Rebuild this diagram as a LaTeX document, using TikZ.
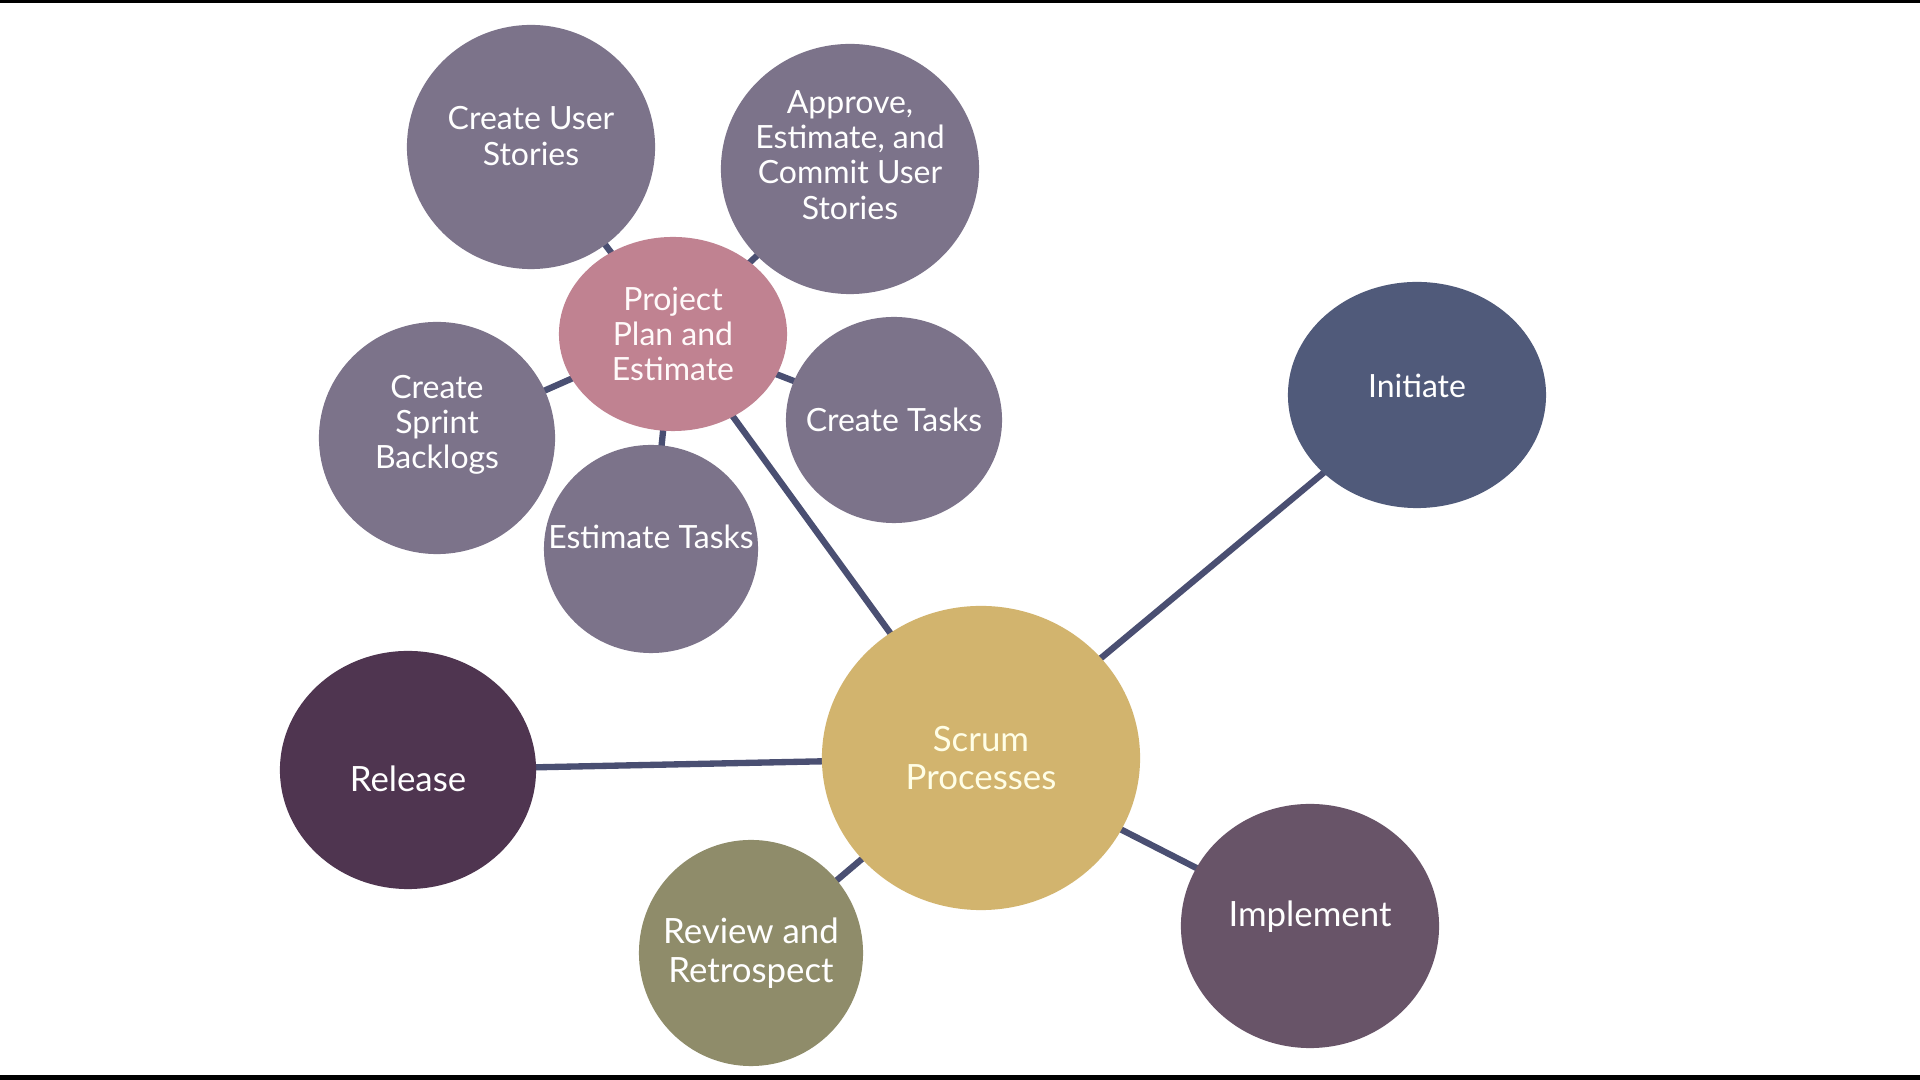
\documentclass[tikz,border=0pt]{standalone}
\usepackage{fontspec}
\setmainfont{Lato}
\usepackage{tikz}
\usetikzlibrary{shapes.geometric, backgrounds}
\definecolor{bubblegray}{RGB}{124, 115, 138}
\definecolor{planpink}{RGB}{192, 130, 145}
\definecolor{initblue}{RGB}{80, 90, 122}
\definecolor{scrumgold}{RGB}{210, 180, 110}
\definecolor{releaseplum}{RGB}{79, 53, 80}
\definecolor{reviewolive}{RGB}{143, 140, 106}
\definecolor{implmauve}{RGB}{104, 84, 104}
\definecolor{linkslate}{RGB}{74, 79, 114}

\begin{document}
\begin{tikzpicture}[x=0.01cm, y=-0.01cm,
  bubble/.style={ellipse, inner sep=0pt},
  caption/.style={align=center, text=white, inner sep=0pt,
    font=\fontsize{9.1}{10}\selectfont},
  bigcaption/.style={caption, font=\fontsize{9.9}{11}\selectfont},
  link/.style={linkslate, line width=1.8pt}]
\useasboundingbox (0,0) rectangle (1920,1080);

% main process circle
\node[bubble, fill=scrumgold, minimum width=3.18cm, minimum height=3.04cm,
  label={[bigcaption, text=white!90!yellow]center:Scrum\\Processes}] (scrum) at (981,758) {};
\node[bubble, fill=initblue, minimum width=2.58cm, minimum height=2.26cm,
  label={[caption, yshift=0.09cm]center:Initiate}] (init) at (1417,395) {};
\node[bubble, fill=implmauve, minimum width=2.58cm, minimum height=2.44cm,
  label={[bigcaption, yshift=0.09cm]center:Implement}] (impl) at (1310,926) {};
\node[bubble, fill=reviewolive, minimum width=2.24cm, minimum height=2.26cm,
  label={[bigcaption]center:Review and\\Retrospect}] (review) at (751,953) {};
\node[bubble, fill=releaseplum, minimum width=2.56cm, minimum height=2.38cm,
  label={[bigcaption, yshift=-0.09cm]center:Release}] (release) at (408,770) {};

% plan and estimate cluster
\node[bubble, fill=planpink, minimum width=2.28cm, minimum height=1.94cm,
  label={[caption, text=white!92!pink]center:Project\\Plan and\\Estimate}] (plan) at (673,334) {};
\node[bubble, fill=bubblegray, minimum width=2.48cm, minimum height=2.44cm,
  label={[caption, yshift=0.11cm]center:Create User\\Stories}] (stories) at (531,147) {};
\node[bubble, fill=bubblegray, minimum width=2.58cm, minimum height=2.5cm,
  label={[caption, yshift=0.14cm]center:Approve,\\Estimate, and\\Commit User\\Stories}] (approve) at (850,169) {};
\node[bubble, fill=bubblegray, minimum width=2.36cm, minimum height=2.32cm,
  label={[caption, yshift=0.13cm]center:Create\\Sprint\\Backlogs}] (sprint) at (437,438) {};
\node[bubble, fill=bubblegray, minimum width=2.16cm, minimum height=2.06cm,
  label={[caption]center:Create Tasks}] (tasks) at (894,420) {};
\node[bubble, fill=bubblegray, minimum width=2.14cm, minimum height=2.08cm,
  label={[caption, yshift=0.12cm]center:Estimate Tasks}] (esttasks) at (651,549) {};

\begin{scope}[on background layer]
\fill[white] (0,0) rectangle (1920,1080);
\fill[black] (0,0) rectangle (1920,3);
\fill[black] (0,1075) rectangle (1920,1080);
\draw[link] (plan.center) -- (stories.center);
\draw[link] (plan.center) -- (approve.center);
\draw[link] (plan.center) -- (sprint.center);
\draw[link] (plan.center) -- (tasks.center);
\draw[link] (plan.center) -- (esttasks.center);
\draw[link] (plan.center) -- (scrum.center);
\draw[link] (scrum.center) -- (init.center);
\draw[link] (scrum.center) -- (release.center);
\draw[link] (scrum.center) -- (review.center);
\draw[link] (scrum.center) -- (impl.center);
\end{scope}

\end{tikzpicture}
\end{document}
